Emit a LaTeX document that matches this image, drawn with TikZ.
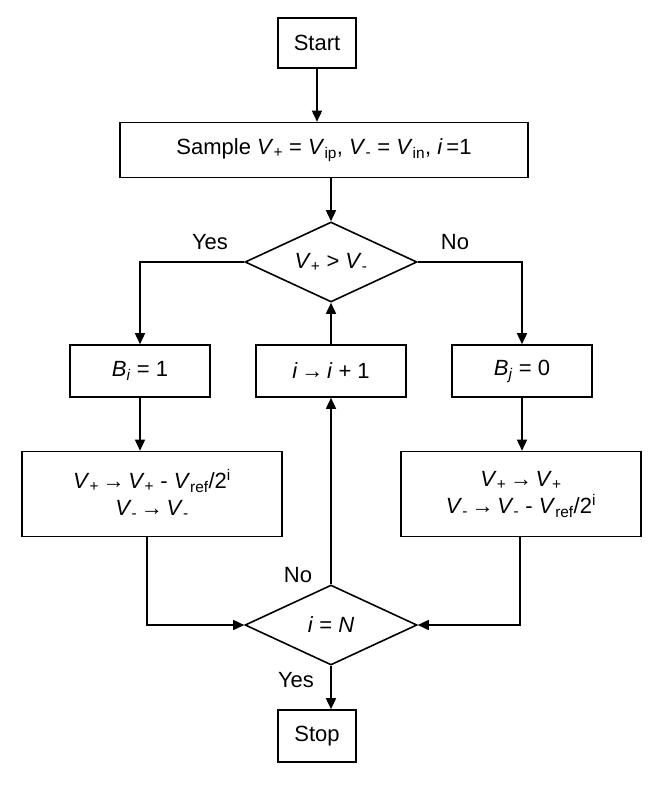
\documentclass[tikz,border=0pt]{standalone}
\usepackage{fontspec}
\setmainfont{Liberation Sans}
\usetikzlibrary{shapes.geometric,arrows.meta}
\newcommand{\vv}[1]{\textit{V}\textsubscript{#1}}
\newcommand{\ra}{\,→\,}
\begin{document}
\begin{tikzpicture}[x=1pt,y=-1pt,
  box/.style={draw,line width=1.6pt,inner sep=0pt,font=\fontsize{22}{27}\selectfont,align=center},
  dia/.style={draw,diamond,line width=1.6pt,inner sep=0pt,font=\fontsize{22}{27}\selectfont,minimum width=172pt,minimum height=80pt,aspect=2.15},
  lab/.style={font=\fontsize{22}{27}\selectfont},
  arr/.style={line width=1.6pt,-{Triangle[length=11pt,width=10pt]}}]
\useasboundingbox (0,0) rectangle (664,807);
\node[box,minimum width=78pt,minimum height=50pt] (start) at (317,43) {Start};
\node[box,minimum width=408pt,minimum height=55pt] (sample) at (324,150) {Sample \vv{+} = \vv{ip}, \vv{-} = \vv{in}, \textit{i}\,=1};
\node[dia] (d1) at (331,262) {\vv{+} > \vv{-}};
\node[box,minimum width=140pt,minimum height=52pt] (b1) at (140,371) {\textit{B}\textsubscript{\textit{i}} = 1};
\node[box,minimum width=150pt,minimum height=52pt] (inc) at (331,371) {\textit{i}\ra\textit{i} + 1};
\node[box,minimum width=140pt,minimum height=52pt] (b0) at (522,371) {\textit{B}\textsubscript{\textit{j}} = 0};
\node[box,minimum width=260pt,minimum height=85pt] (l) at (152,494) {\vv{+}\ra\vv{+} - \vv{ref}/2\textsuperscript{i}\\ \vv{-}\ra\vv{-}};
\node[box,minimum width=240pt,minimum height=85pt] (r) at (521,494) {\vv{+}\ra\vv{+}\\ \vv{-}\ra\vv{-} - \vv{ref}/2\textsuperscript{i}};
\node[dia] (d2) at (331,625) {\textit{i} = \textit{N}};
\node[box,minimum width=78pt,minimum height=52pt] (stop) at (317,736) {Stop};
\draw[arr] (start) -- (sample.north -| start);
\draw[arr] (sample.south -| d1) -- (d1.north);
\draw[arr] (d1.west) -| (b1.north);
\draw[arr] (d1.east) -| (b0.north);
\draw[arr] (b1) -- (b1 |- l.north);
\draw[arr] (b0) -- (b0 |- r.north);
\draw[arr] (inc) -- (d1.south);
\draw[arr] (d2.north) -- (inc.south);
\draw[arr] (l.south -| 147,0) |- (d2.west);
\draw[arr] (r.south -| 520,0) |- (d2.east);
\draw[arr] (d2.south) -- (stop.north -| d2);
\node[lab] (yes1) at (210,242) {Yes};
\node[lab] (no1) at (455,242) {No};
\node[lab] (no2) at (298,575) {No};
\node[lab] (yes2) at (296,680) {Yes};
\end{tikzpicture}
\end{document}
